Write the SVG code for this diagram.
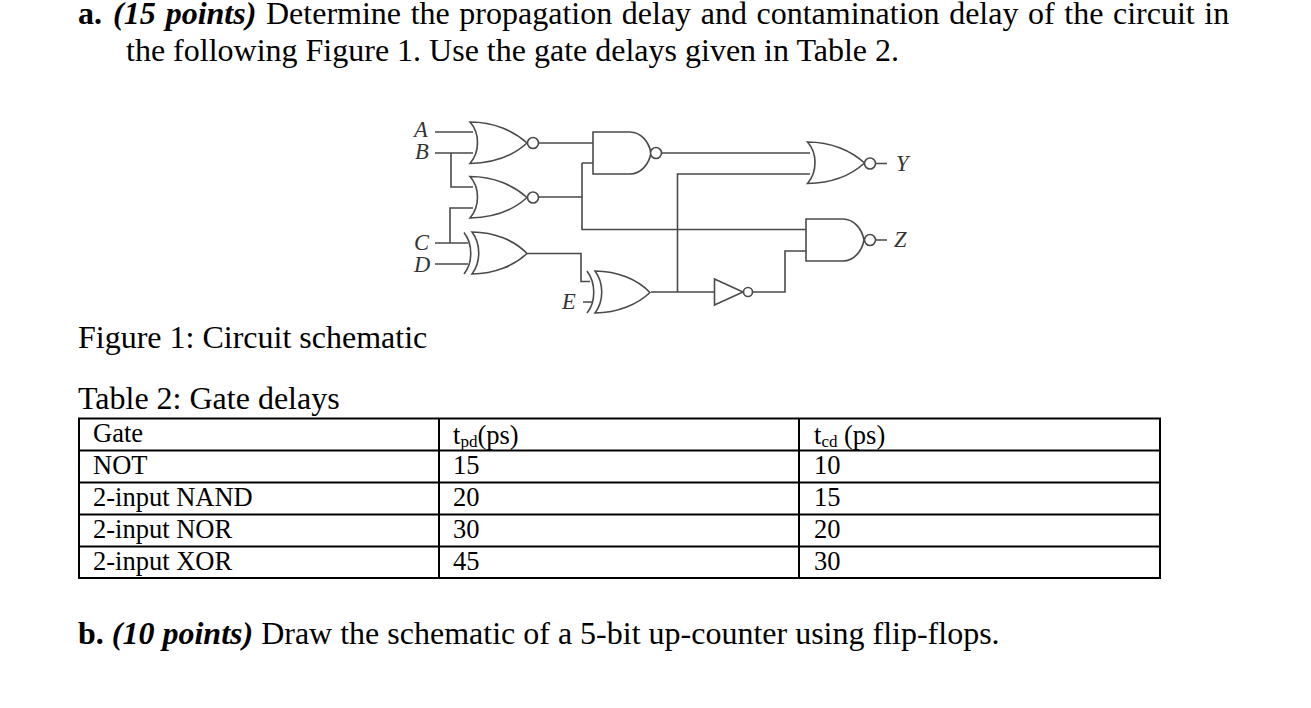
<svg xmlns="http://www.w3.org/2000/svg" width="1311" height="708" viewBox="0 0 1311 708">
<style>
text{font-family:"Liberation Serif","Times New Roman",serif;fill:#000}
.h{font-size:32px}
.c{font-size:26.5px}
.l{font-size:22.500px;font-style:italic;fill:#333}
.w{fill:none;stroke:#4a4a4a;stroke-width:1.6}
.g{fill:#fff;stroke:#4a4a4a;stroke-width:1.6}
.t{fill:none;stroke:#000;stroke-width:2}
</style>
<defs>
<path id="or" d="M470 122C494 122 514 131 527 143C514 155 494 163 470 163.500C480 152 480 133 470 122Z"/>
<path id="xor" d="M472 232C495 232 515 241 527 253.500C515 265 495 274 472 274C481 262 481 244 472 232Z"/>
<path id="nand" d="M0 0H37C48 0 56 10 58 21C56 32 48 42 37 42H0Z"/>
</defs>
<rect width="1311" height="708" fill="#fff"/>
<g id="heading">
<text class="h" y="24"><tspan x="78" font-weight="bold">a.</tspan><tspan x="113" font-weight="bold" font-style="italic" word-spacing="2">(15 points)</tspan><tspan x="266" word-spacing="1.600">Determine the propagation delay and contamination delay of the circuit in</tspan></text>
<text class="h" x="126" y="61">the following Figure 1. Use the gate delays given in Table 2.</text>
</g>
<g id="connectors" class="w">
<path d="M435 132H473M435 153H473M451 153V187H473M473 208H450V243M435 243H468M435 264H468"/>
<path d="M538 143H593M538 197H582M582 163H593M582 163V229.500H806M527 253.500H581V281.500H590M583 302H592"/>
<path d="M661 153H810M651 292H714M677.500 292V174H810M753 292H785V251H806M875 163.500H887M875 240H887"/>
</g>
<g id="nor1"><use href="#or" class="g"/><circle class="g" cx="533" cy="143" r="5.500"/></g>
<g id="nor2"><use href="#or" y="54.500" class="g"/><circle class="g" cx="533" cy="197.500" r="5.500"/></g>
<g id="xor1"><use href="#xor" class="g"/><path class="w" d="M464 232.500C473 244 473 263 464 274"/></g>
<g id="nand1"><use href="#nand" x="593" y="132" class="g"/><circle class="g" cx="656" cy="153" r="5.500"/></g>
<g id="xor2"><use href="#xor" x="123" y="39" class="g"/><path class="w" d="M587 271C596 283 596 302 587 313"/></g>
<g id="not1"><path class="g" d="M714.500 279L743 292L714.500 305Z"/><circle class="g" cx="748" cy="292" r="4.500"/></g>
<g id="nor3"><use href="#or" x="337.500" y="20" class="g"/><circle class="g" cx="870" cy="163.500" r="5.500"/></g>
<g id="nand2"><use href="#nand" x="806" y="219" class="g"/><circle class="g" cx="870" cy="240" r="5.500"/></g>
<g id="labels">
<text class="l" x="414" y="137">A</text>
<text class="l" x="415" y="159">B</text>
<text class="l" x="414" y="250">C</text>
<text class="l" x="414" y="272">D</text>
<text class="l" x="562" y="309">E</text>
<text class="l" x="896" y="171">Y</text>
<text class="l" x="894" y="247">Z</text>
</g>
<g id="captions">
<text class="h" x="78" y="348">Figure 1: Circuit schematic</text>
<text class="h" x="78" y="409">Table 2: Gate delays</text>
</g>
<g id="table">
<rect class="t" x="79" y="418.500" width="1081" height="159.500"/>
<path class="t" d="M79 450.500H1160M79 482.500H1160M79 514.500H1160M79 546.500H1160M439 418V578M799 418V578"/>
<text class="c" x="93" y="442">Gate</text>
<text class="c" x="453" y="444">t<tspan font-size="17" dy="3">pd</tspan><tspan dy="-3">(ps)</tspan></text>
<text class="c" x="814" y="444">t<tspan font-size="17" dy="3">cd</tspan><tspan dy="-3"> (ps)</tspan></text>
<text class="c" x="93" y="474">NOT</text><text class="c" x="453" y="474">15</text><text class="c" x="814" y="474">10</text>
<text class="c" x="93" y="506">2-input NAND</text><text class="c" x="453" y="506">20</text><text class="c" x="814" y="506">15</text>
<text class="c" x="93" y="538">2-input NOR</text><text class="c" x="453" y="538">30</text><text class="c" x="814" y="538">20</text>
<text class="c" x="93" y="570">2-input XOR</text><text class="c" x="453" y="570">45</text><text class="c" x="814" y="570">30</text>
</g>
<g id="partb">
<text class="h" x="78" y="644"><tspan font-weight="bold">b. </tspan><tspan font-weight="bold" font-style="italic">(10 points)</tspan> Draw the schematic of a 5-bit up-counter using flip-flops.</text>
</g>
</svg>
